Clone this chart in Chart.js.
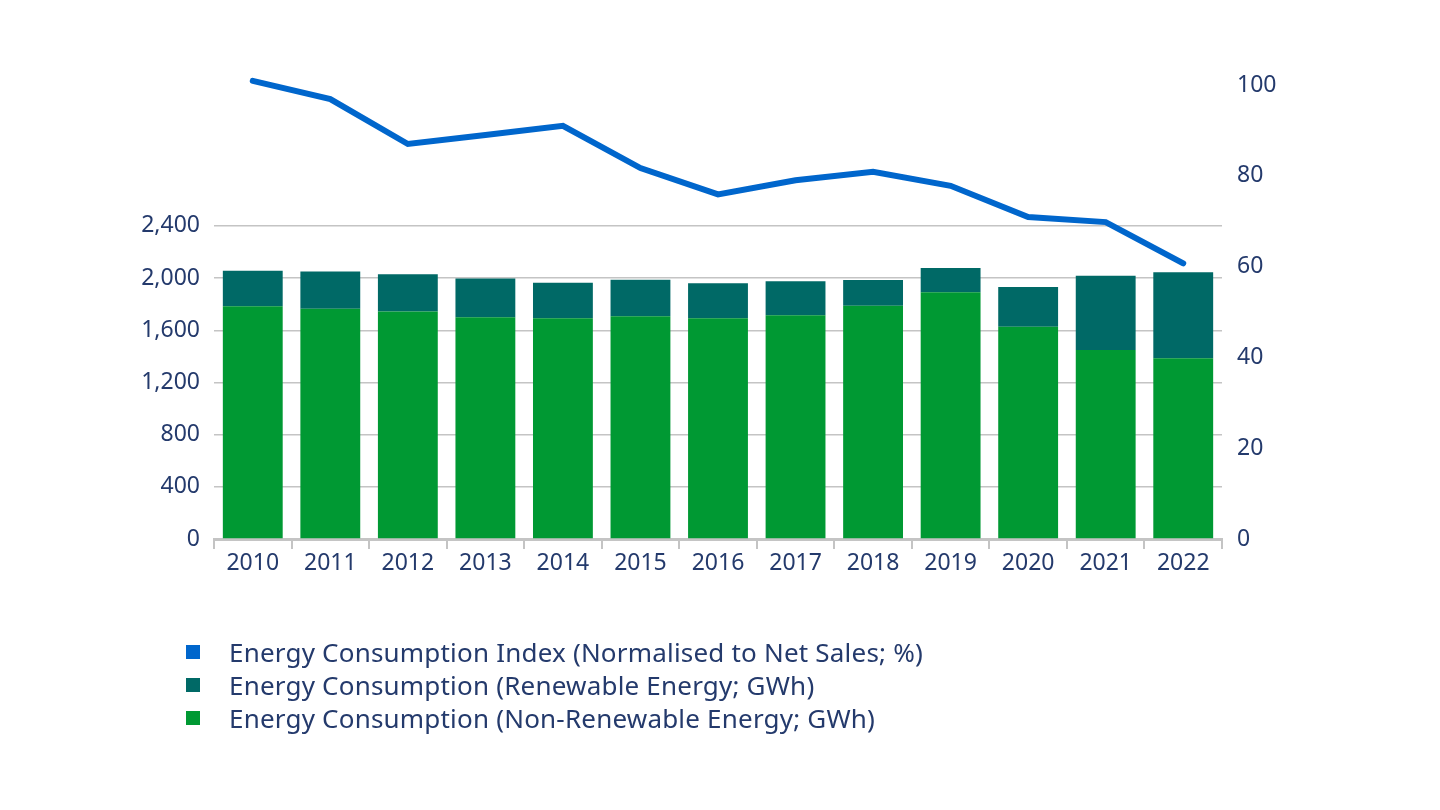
<!DOCTYPE html>
<html><head><meta charset="utf-8">
<script src="https://cdn.jsdelivr.net/npm/chart.js@4/dist/chart.umd.min.js"></script>
<style>
html,body{margin:0;padding:0;background:#fff;}
#wrap{position:relative;width:1440px;height:810px;overflow:hidden;}
#c{position:absolute;left:0;top:0;width:1440px;height:810px;}
.legend{position:absolute;left:186px;top:635px;font-family:"Noto Sans",sans-serif;font-size:26px;letter-spacing:0.2px;color:#243a6c;}
.item{display:flex;align-items:center;height:33px;white-space:nowrap;}
.sw{width:14px;height:14px;margin-right:29px;flex:none;}
</style></head>
<body><div id="wrap"><canvas id="c" width="1440" height="810"></canvas><div class="legend" id="legend"></div></div>
<script>
const years = ["2010","2011","2012","2013","2014","2015","2016","2017","2018","2019","2020","2021","2022"];
const nonRenewable = [1784,1764,1743,1700,1692,1707,1692,1715,1787,1892,1626,1449,1385];
const renewable = [273,286,286,296,273,281,269,261,199,186,306,568,660];
const indexValues = [100.9,96.9,87.0,89.0,91.0,81.7,75.9,79.0,80.9,77.8,70.9,69.8,60.7];
const leftTicks = [0,400,800,1200,1600,2000,2400];
const rightTicks = [0,20,40,60,80,100];
const labels = {
  index: "Energy Consumption Index (Normalised to Net Sales; %)",
  renewable: "Energy Consumption (Renewable Energy; GWh)",
  nonRenewable: "Energy Consumption (Non-Renewable Energy; GWh)"
};
const colors = { index: "#0066cc", renewable: "#006966", nonRenewable: "#009933" };
const textColor = "#243a6c";
const gridColor = "#c4c4c4";
const font = { family: "Noto Sans", size: 23 };

new Chart(document.getElementById('c'), {
  data: {
    labels: years,
    datasets: [
      { type: 'line', label: labels.index, data: indexValues, yAxisID: 'y1', order: 0,
        borderColor: colors.index, backgroundColor: colors.index, borderWidth: 6,
        pointRadius: 0, tension: 0, clip: false, borderCapStyle: 'round', borderJoinStyle: 'miter' },
      { type: 'bar', label: labels.nonRenewable, data: nonRenewable, yAxisID: 'y', order: 1,
        backgroundColor: colors.nonRenewable, categoryPercentage: 1, barPercentage: 0.772, stack: 's' },
      { type: 'bar', label: labels.renewable, data: renewable, yAxisID: 'y', order: 2,
        backgroundColor: colors.renewable, categoryPercentage: 1, barPercentage: 0.772, stack: 's' }
    ]
  },
  options: {
    responsive: false, animation: false, devicePixelRatio: 1,
    layout: { padding: { top: 85, bottom: 231, left: 0, right: 0 } },
    plugins: { legend: { display: false }, tooltip: { enabled: false } },
    scales: {
      x: {
        stacked: true, offset: true,
        grid: { offset: true, drawOnChartArea: false, drawTicks: true, tickLength: 10, color: gridColor, lineWidth: 2 },
        border: { display: true, color: gridColor, width: 3 },
        ticks: { color: textColor, font: font, padding: 1, maxRotation: 0 },
        afterFit: s => { s.height = 40; }
      },
      y: {
        position: 'left', stacked: true, min: 0, max: 3480,
        afterBuildTicks: s => { s.ticks = leftTicks.map(v => ({ value: v })); },
        grid: { color: gridColor, lineWidth: 1.5, drawTicks: false },
        border: { display: false },
        ticks: { color: textColor, font: font, padding: 14, callback: v => Number(v).toLocaleString('en-US') },
        afterFit: s => { s.width = 214; }
      },
      y1: {
        position: 'right', min: 0, max: 100,
        afterBuildTicks: s => { s.ticks = rightTicks.map(v => ({ value: v })); },
        grid: { display: false, drawTicks: false },
        border: { display: false },
        ticks: { color: textColor, font: font, padding: 15 },
        afterFit: s => { s.width = 218; }
      }
    }
  }
});

const legendItems = [
  [labels.index, colors.index],
  [labels.renewable, colors.renewable],
  [labels.nonRenewable, colors.nonRenewable]
];
const lg = document.getElementById('legend');
legendItems.forEach(([t, c]) => {
  const d = document.createElement('div'); d.className = 'item';
  const s = document.createElement('span'); s.className = 'sw'; s.style.background = c;
  const tx = document.createElement('span'); tx.textContent = t;
  d.appendChild(s); d.appendChild(tx); lg.appendChild(d);
});
</script>
</body></html>
